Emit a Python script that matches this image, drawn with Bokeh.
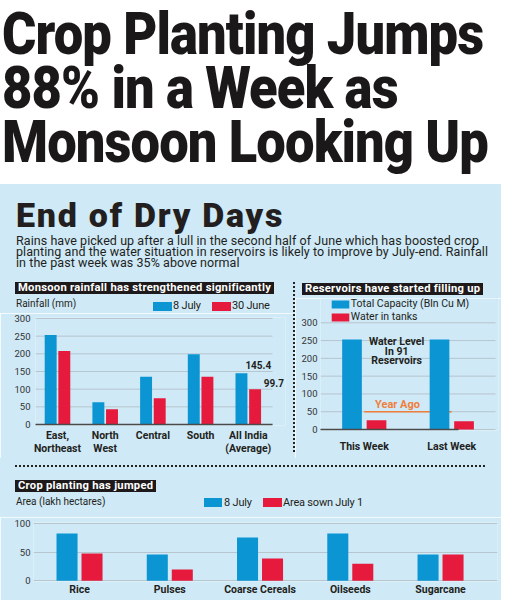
from bokeh.plotting import figure
from bokeh.models import Div, Range1d, FixedTicker, ColumnDataSource, Label, Legend, LegendItem
from bokeh.layouts import column, row
from bokeh.transform import dodge
from bokeh.embed import file_html
from bokeh.resources import INLINE

BG = "#cfe9f7"
BLUE = "#0b95d3"
RED = "#e61a3d"
DARK = "#231f20"
GRID = "#b7c5ce"
AXIS = "#4a4a4a"
ORANGE = "#ef7f3c"
TB = "#1e1a1b"

# ---------------- data ----------------
regions = ["East,\nNortheast", "North\nWest", "Central", "South", "All India\n(Average)"]
rain_jul8 = [253, 63, 135, 199, 145.4]
rain_jun30 = [208, 43, 74, 135, 99.7]
rain_ticks = [0, 50, 100, 150, 200, 250, 300]

weeks = ["This Week", "Last Week"]
res_capacity = [253, 253]
res_water = [26, 23]
res_year_ago = 50
res_ticks = [0, 50, 100, 150, 200, 250, 300]

crops = ["Rice", "Pulses", "Coarse Cereals", "Oilseeds", "Sugarcane"]
crop_jul8 = [83, 46, 76, 83, 46]
crop_jul1 = [48, 20, 39, 30, 46]
crop_ticks = [0, 50, 100]

headline_lines = ["Crop Planting Jumps", "88% in a Week as", "Monsoon Looking Up"]

FONT = "Roboto"
M0 = (0, 0, 0, 0)


def make_fig(w, h, xr, yr, ml, mr, mt, mb, yticks, labels, standoff, ystand):
    p = figure(width=w, height=h, x_range=Range1d(*xr), y_range=Range1d(*yr),
               output_backend="svg", toolbar_location=None,
               min_border_left=ml, min_border_right=mr, min_border_top=mt, min_border_bottom=mb)
    p.background_fill_color = BG
    p.border_fill_color = BG
    p.outline_line_color = None
    p.xgrid.visible = False
    yt = FixedTicker(ticks=yticks)
    p.yaxis.ticker = yt
    p.ygrid.ticker = yt
    p.ygrid.grid_line_color = GRID
    p.ygrid.grid_line_width = 1
    p.yaxis.axis_line_color = None
    p.yaxis.major_tick_line_color = None
    p.yaxis.minor_tick_line_color = None
    p.yaxis.major_tick_out = 0
    p.yaxis.major_tick_in = 0
    p.yaxis.minor_tick_out = 0
    p.yaxis.major_label_text_font = FONT
    p.yaxis.major_label_text_font_size = "9.5px"
    p.yaxis.major_label_text_color = "#333333"
    p.yaxis.major_label_standoff = ystand
    p.xaxis.ticker = FixedTicker(ticks=list(range(len(labels))))
    p.xaxis.major_label_overrides = {i: s for i, s in enumerate(labels)}
    p.xaxis.axis_line_color = None
    p.xaxis.major_tick_line_color = None
    p.xaxis.minor_tick_line_color = None
    p.xaxis.major_tick_out = 0
    p.xaxis.major_tick_in = 0
    p.xaxis.minor_tick_out = 0
    p.xaxis.major_label_text_font = FONT
    p.xaxis.major_label_text_font_style = "bold"
    p.xaxis.major_label_text_font_size = "10.5px"
    p.xaxis.major_label_text_color = DARK
    p.xaxis.major_label_text_line_height = 1.05
    p.xaxis.major_label_standoff = standoff
    return p


def grid_segments(p, x0, x1, ticks, base_x1):
    # horizontal grid lines at the tick values plus the darker zero line
    p.ygrid.visible = False
    p.segment(x0=[x0] * len(ticks), x1=[x1] * len(ticks), y0=ticks, y1=ticks,
              line_color=GRID, line_width=1)
    p.segment(x0=[x0], x1=[base_x1], y0=[0], y1=[0], line_color=AXIS, line_width=1.3, level="overlay")


# ---------------- headline ----------------
headline = Div(width=505, height=184, margin=M0, text=f"""
<div style="position:relative;width:505px;height:184px;background:#ffffff;">
<div style="position:absolute;left:2px;top:7px;font-family:{FONT};font-weight:900;font-size:60px;line-height:54px;
color:#1b1819;white-space:nowrap;letter-spacing:-1px;transform:scaleX(0.875);transform-origin:0 0;">
{'<br>'.join(headline_lines)}</div></div>""")

header = Div(width=501, height=96, margin=M0, text=f"""
<div style="position:relative;width:501px;height:96px;background:{BG};overflow:hidden;font-family:{FONT};color:{DARK};">
<div style="position:absolute;left:16px;top:14px;font-weight:900;font-size:34px;line-height:34px;white-space:nowrap;letter-spacing:1.75px;">End of Dry Days</div>
<div style="position:absolute;left:16px;top:51px;font-size:12.5px;line-height:11px;white-space:nowrap;letter-spacing:0.07px;">
Rains have picked up after a lull in the second half of June which has boosted crop<br>
planting and the water situation in reservoirs is likely to improve by July-end. Rainfall<br>
in the past week was 35% above normal</div></div>""")


def title_bar(left, top, text):
    return (f'<div style="position:absolute;left:{left}px;top:{top}px;height:12px;line-height:12px;padding:0 3px;'
            f'background:{TB};color:#ffffff;font-weight:bold;font-size:11.2px;letter-spacing:0.28px;'
            f'white-space:nowrap;">{text}</div>')


def swatch(left, top, color, w=18.4, h=8.4):
    return (f'<div style="position:absolute;left:{left}px;top:{top}px;width:{w}px;height:{h}px;background:{color};"></div>')


def label(left, top, text, size=11, extra=""):
    return (f'<div style="position:absolute;left:{left}px;top:{top}px;line-height:12px;font-size:{size}px;'
            f'white-space:nowrap;{extra}">{text}</div>')


# ---------------- left chart ----------------
left_head = Div(width=293, height=33, margin=M0, text=f"""
<div style="position:relative;width:293px;height:33px;background:{BG};overflow:hidden;font-family:{FONT};color:{DARK};">
{title_bar(15, 2.3, "Monsoon rainfall has strengthened significantly")}
{label(16, 18.3, "Rainfall (mm)", 10)}
{swatch(153.3, 22.3, BLUE)}
{label(173, 20.3, "8 July", 11, "letter-spacing:-0.2px;")}
{swatch(212.3, 22.3, RED)}
{label(232, 20.3, "30 June", 11, "letter-spacing:-0.2px;")}
</div>""")

X1 = (-0.461, 4.780)
p1 = make_fig(293, 145, X1, (-2.78, 302.78), 35, 8, 4, 31, rain_ticks, regions, 3, 5)
grid_segments(p1, X1[0], 4.508, rain_ticks, 4.508)
s1 = ColumnDataSource(dict(idx=list(range(len(regions))), a=rain_jul8, b=rain_jun30))
p1.vbar(x=dodge("idx", -0.143), top="a", width=0.25, source=s1, fill_color=BLUE, line_color=None)
p1.vbar(x=dodge("idx", 0.143), top="b", width=0.25, source=s1, fill_color=RED, line_color=None)
p1.add_layout(Label(x=4.21, y=167, text=f"{rain_jul8[4]}", text_align="center", text_baseline="middle",
                    text_font=FONT, text_font_style="bold", text_font_size="10px", text_color=DARK))
p1.add_layout(Label(x=4.535, y=117, text=f"{rain_jun30[4]}", text_align="center", text_baseline="middle",
                    text_font=FONT, text_font_style="bold", text_font_size="10px", text_color=DARK))

left_col = column(left_head, p1, spacing=0)

sep = Div(width=2, height=178, margin=M0, text=f"""
<div style="width:2px;height:178px;background:{BG};position:relative;">
<div style="position:absolute;left:0px;top:2px;height:170px;border-left:2px dotted #222;"></div></div>""")

# ---------------- right chart ----------------
right_head = Div(width=206, height=18, margin=M0, text=f"""
<div style="position:relative;width:206px;height:18px;background:{BG};overflow:hidden;font-family:{FONT};color:{DARK};">
{title_bar(7, 3, "Reservoirs have started filling up")}
</div>""")

X2 = (-0.5, 1.534)
p2 = make_fig(206, 160, X2, (-2.81, 368.3), 25, 3, 0, 28, res_ticks, weeks, 9, 3)
grid_segments(p2, X2[0], 1.5, res_ticks, 1.077)
s2 = ColumnDataSource(dict(idx=list(range(len(weeks))), a=res_capacity, b=res_water))
p2.segment(x0=[0], x1=[1], y0=[res_year_ago], y1=[res_year_ago], line_color=ORANGE, line_width=1.5)
r_cap = p2.vbar(x=dodge("idx", -0.14), top="a", width=0.225, source=s2, fill_color=BLUE, line_color=None)
r_wat = p2.vbar(x=dodge("idx", 0.14), top="b", width=0.225, source=s2, fill_color=RED, line_color=None)
for yy, tt in zip([248, 220, 193], ["Water Level", "In 91", "Reservoirs"]):
    p2.add_layout(Label(x=0.37, y=yy, text=tt, text_align="center", text_baseline="middle",
                        text_font=FONT, text_font_style="bold", text_font_size="10.5px", text_color=DARK))
p2.add_layout(Label(x=0.38, y=70, text="Year Ago", text_align="center", text_baseline="middle",
                    text_font=FONT, text_font_style="bold", text_font_size="11px", text_color=ORANGE))
leg = Legend(items=[LegendItem(label="Total Capacity (Bln Cu M)", renderers=[r_cap]),
                    LegendItem(label="Water in tanks", renderers=[r_wat])],
             location=(8.8, 107), orientation="vertical", margin=0, padding=0, spacing=0,
             glyph_width=22, glyph_height=10, label_height=10, label_standoff=0,
             label_text_font=FONT, label_text_font_size="10.5px", label_text_color=DARK,
             background_fill_alpha=0, border_line_color=None)
p2.add_layout(leg)

right_col = column(right_head, p2, spacing=0)

mid = row(left_col, sep, right_col, spacing=0)

# ---------------- bottom chart ----------------
bottom_head = Div(width=501, height=59, margin=M0, text=f"""
<div style="position:relative;width:501px;height:59px;background:{BG};overflow:hidden;font-family:{FONT};color:{DARK};">
<div style="position:absolute;left:15px;top:7px;width:470px;border-top:2px dotted #222;"></div>
{title_bar(15, 22, "Crop planting has jumped")}
{label(16, 38.3, "Area (lakh hectares)", 10)}
{swatch(204, 40.3, BLUE)}
{label(224, 38.5, "8 July", 11, "letter-spacing:-0.2px;")}
{swatch(263.3, 40.3, RED)}
{label(283, 38.5, "Area sown July 1", 11, "letter-spacing:-0.2px;")}
</div>""")

p3 = make_fig(501, 83, (-0.51, 4.631), (-1.23, 102.3), 33, 4, 5, 19, crop_ticks, crops, 1, 3)
s3 = ColumnDataSource(dict(idx=list(range(len(crops))), a=crop_jul8, b=crop_jul1))
p3.vbar(x=dodge("idx", -0.1385), top="a", width=0.233, source=s3, fill_color=BLUE, line_color=None)
p3.vbar(x=dodge("idx", 0.1385), top="b", width=0.233, source=s3, fill_color=RED, line_color=None)

strip = Div(width=505, height=6, margin=M0, text="""
<div style="width:505px;height:6px;background:linear-gradient(90deg,#6f6a4c 0%,#4d7a3a 25%,#3f6e33 60%,#557d3c 100%);"></div>""")

page = column(headline, header, mid, bottom_head, p3, strip, spacing=0)

open("out.html", "w").write(file_html(page, INLINE))
